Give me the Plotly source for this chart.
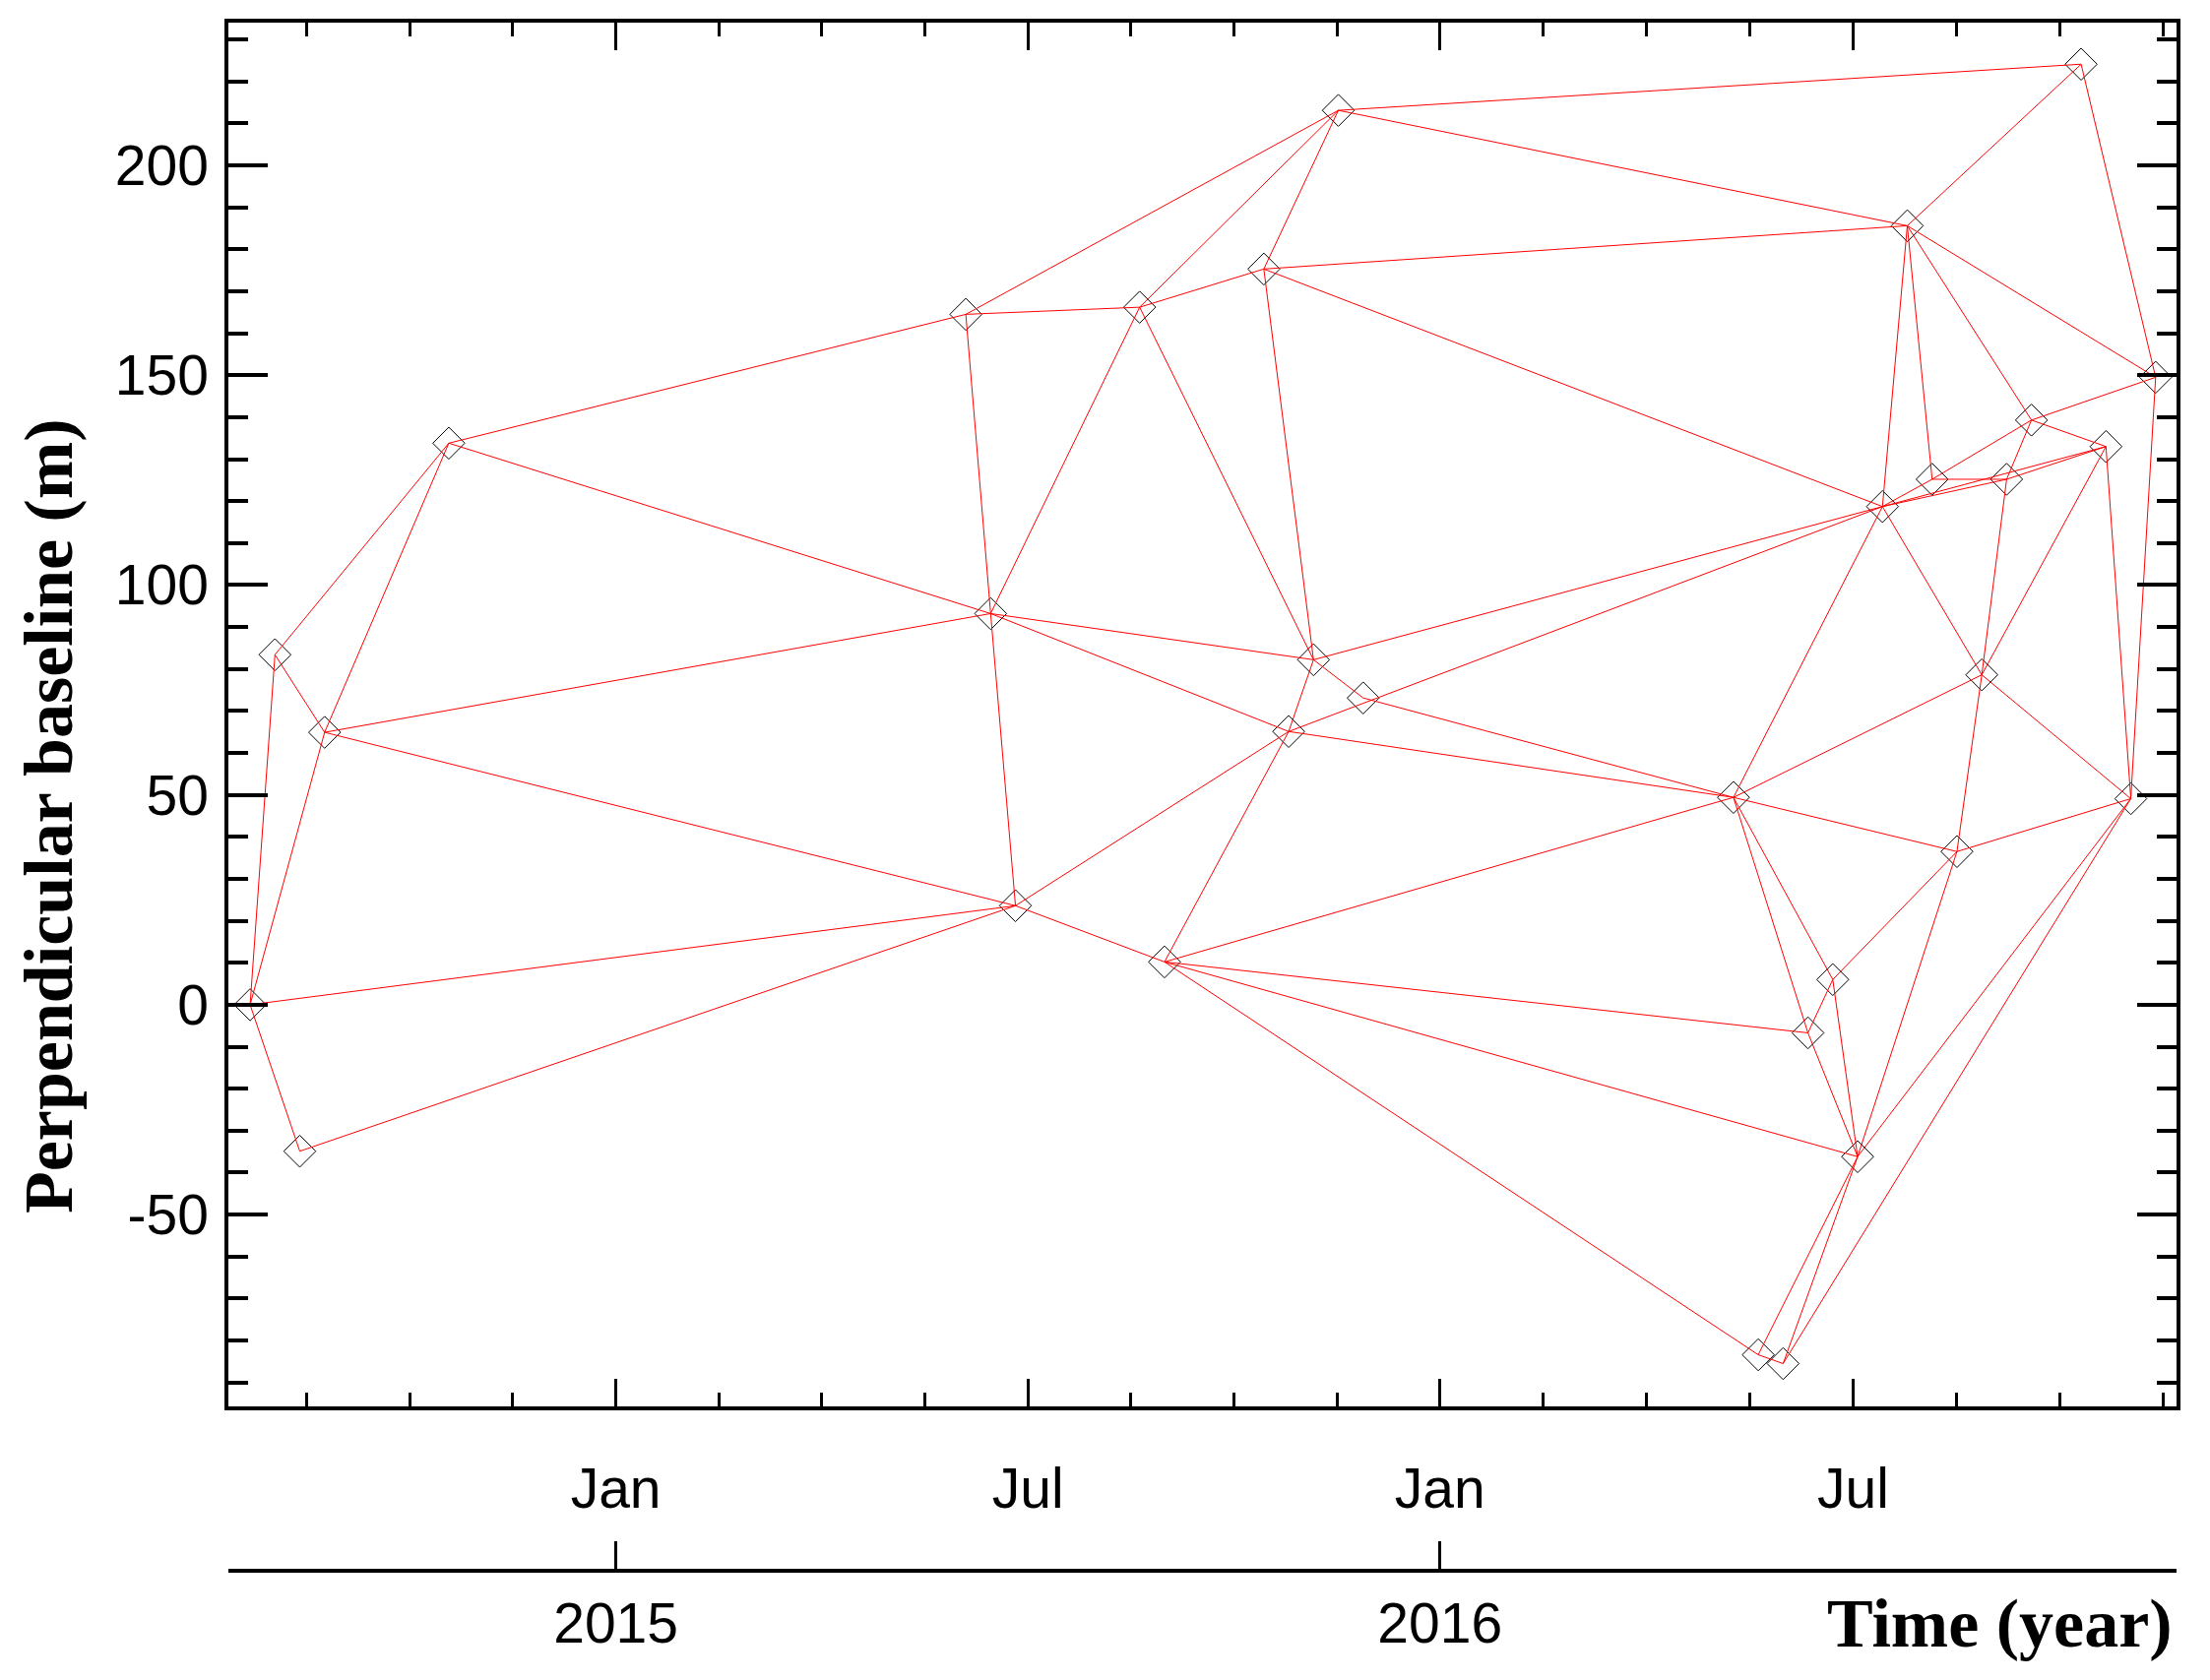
import plotly.graph_objects as go
from datetime import datetime

# ---------------- data ----------------
acq_dates = [
    "2014-07-23", "2014-08-03", "2014-08-14", "2014-08-25", "2014-10-19",
    "2015-06-05", "2015-06-16", "2015-06-27", "2015-08-21", "2015-09-01",
    "2015-10-15", "2015-10-26", "2015-11-06", "2015-11-17", "2015-11-28",
    "2016-05-10", "2016-05-21", "2016-06-01", "2016-06-12", "2016-06-23",
    "2016-07-04", "2016-07-15", "2016-07-26", "2016-08-06", "2016-08-17",
    "2016-08-28", "2016-09-08", "2016-09-19", "2016-10-11", "2016-10-22",
    "2016-11-02", "2016-11-13",
]
perp_baseline = [
    0.0, 83.4, -34.9, 64.9, 133.8,
    164.5, 93.2, 23.6, 166.2, 10.2,
    175.3, 65.1, 82.2, 213.1, 73.1,
    49.4, -83.4, -85.5, -6.7, 6.0,
    -36.2, 118.7, 185.6, 125.2, 36.5,
    78.6, 125.2, 139.3, 224.1, 133.0,
    49.1, 149.5,
]
# interferometric pairs (1-based acquisition numbers)
pairs = [
    (1, 2), (1, 3), (1, 4), (1, 8), (2, 4), (2, 5), (3, 8), (4, 5), (4, 7), (4, 8),
    (5, 6), (5, 7), (6, 7), (6, 9), (6, 14), (7, 8), (7, 9), (7, 12), (7, 13),
    (8, 10), (8, 12), (9, 11), (9, 13), (9, 14), (10, 12), (10, 16), (10, 17),
    (10, 19), (10, 21), (11, 13), (11, 14), (11, 22), (11, 23), (12, 13), (12, 16),
    (12, 22), (13, 15), (13, 22), (15, 16), (14, 23), (14, 29), (16, 19), (16, 20),
    (16, 22), (16, 25), (16, 26), (17, 18), (17, 21), (18, 21), (18, 31), (19, 20),
    (19, 21), (20, 21), (20, 25), (21, 25), (21, 31), (22, 23), (22, 24), (22, 26),
    (22, 27), (22, 30), (23, 24), (23, 28), (23, 29), (23, 32), (24, 27), (24, 28),
    (25, 26), (25, 31), (26, 27), (26, 30), (26, 31), (27, 28), (27, 30), (28, 30),
    (28, 32), (29, 32), (30, 31), (31, 32),
]

month_labels = ["Jan", "Jul", "Jan", "Jul"]
month_tick_years = [2015.0, 2015.5, 2016.0, 2016.5]
year_labels = ["2015", "2016"]
year_tick_years = [2015.0, 2016.0]
y_tick_vals = [-50, 0, 50, 100, 150, 200]
y_tick_labels = ["-50", "0", "50", "100", "150", "200"]

X_RANGE_YEARS = [2014.5298, 2016.8914]
Y_RANGE = [-95.7, 234.0]


def dec_year(v):
    yr = int(v // 1)
    start = datetime(yr, 1, 1)
    end = datetime(yr + 1, 1, 1)
    return (start + (end - start) * (v - yr)).strftime("%Y-%m-%d %H:%M:%S")


x_range = [dec_year(v) for v in X_RANGE_YEARS]
minor_x = [dec_year(2014.5 + k * 0.125) for k in range(1, 20) if k % 4 != 0]
minor_y = [v for v in range(-90, 240, 10) if v % 50 != 0]

# ---------------- figure ----------------
edge_x, edge_y = [], []
for a, b in pairs:
    edge_x += [acq_dates[a - 1], acq_dates[b - 1], None]
    edge_y += [perp_baseline[a - 1], perp_baseline[b - 1], None]

fig = go.Figure()
fig.add_trace(go.Scatter(
    x=acq_dates, y=perp_baseline, mode="markers",
    marker=dict(symbol="diamond-open", size=25, color="black", line=dict(width=1, color="black")),
    hoverinfo="skip", showlegend=False,
))
fig.add_trace(go.Scatter(
    x=edge_x, y=edge_y, mode="lines", line=dict(color="#ff0000", width=1),
    hoverinfo="skip", showlegend=False,
))
# carrier for the year axis
fig.add_trace(go.Scatter(
    x=acq_dates, y=perp_baseline, xaxis="x2", yaxis="y", mode="markers",
    marker=dict(opacity=0), hoverinfo="skip", showlegend=False,
))

sans = "Liberation Sans, Arial, Helvetica, sans-serif"
serif = "Liberation Serif, Times New Roman, serif"
tickfont = dict(family=sans, size=57, color="black")

W, H = 2245, 1707
L, R, T, B = 232, 34, 23, 111
plot_bottom_px = 1429
paper_h = H - T - B
paper_w = W - L - R
y_dom0 = (H - B - plot_bottom_px) / paper_h

fig.update_layout(
    width=W, height=H,
    margin=dict(l=L, r=R, t=T, b=B, autoexpand=False),
    paper_bgcolor="white", plot_bgcolor="white",
    showlegend=False,
    xaxis=dict(
        type="date", range=x_range, showgrid=False, zeroline=False, automargin=False,
        showline=True, linewidth=3.5, linecolor="black", mirror="ticks",
        ticks="inside", ticklen=28, tickwidth=3, tickcolor="black",
        tickmode="array", tickvals=[dec_year(v) for v in month_tick_years], ticktext=month_labels,
        tickfont=tickfont, ticklabelstandoff=31,
        minor=dict(tickmode="array", tickvals=minor_x, ticks="inside", ticklen=14, tickwidth=3, tickcolor="black"),
    ),
    xaxis2=dict(
        type="date", range=x_range, overlaying="x", anchor="free", position=0, side="bottom",
        automargin=False,
        showgrid=False, zeroline=False, showline=True, linewidth=3.5, linecolor="black",
        ticks="inside", ticklen=28, tickwidth=3, tickcolor="black",
        tickmode="array", tickvals=[dec_year(v) for v in year_tick_years], ticktext=year_labels,
        tickfont=tickfont, ticklabelstandoff=3,
    ),
    yaxis=dict(
        domain=[y_dom0, 1], range=Y_RANGE, showgrid=False, zeroline=False, automargin=False,
        showline=True, linewidth=3.5, linecolor="black", mirror="ticks",
        ticks="inside", ticklen=40, tickwidth=3.5, tickcolor="black",
        tickmode="array", tickvals=y_tick_vals, ticktext=y_tick_labels,
        tickfont=tickfont, ticklabelstandoff=5,
        minor=dict(tickmode="array", tickvals=minor_y, ticks="inside", ticklen=20, tickwidth=3.5, tickcolor="black"),
    ),
    annotations=[
        dict(text="<b>Perpendicular baseline (m)</b>", textangle=-90,
             xref="paper", yref="paper", x=(49 - L) / paper_w, y=(H - B - 829) / paper_h,
             xanchor="center", yanchor="middle", showarrow=False,
             font=dict(family=serif, size=70, color="black")),
        dict(text="<b>Time (year)</b>",
             xref="paper", yref="paper", x=(2209 - L) / paper_w, y=(H - B - 1649) / paper_h,
             xanchor="right", yanchor="middle", showarrow=False,
             font=dict(family=serif, size=70, color="black")),
    ],
)

fig.write_html(
    "out.html",
    config={"displayModeBar": False},
    post_script="document.body.style.margin='0';document.body.style.padding='0';",
)
